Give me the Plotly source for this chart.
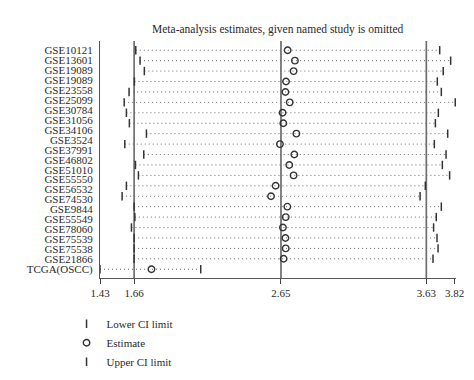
import plotly.graph_objects as go

# ---- data ----
study_labels = ["GSE10121", "GSE13601", "GSE19089", "GSE19089", "GSE23558", "GSE25099",
                "GSE30784", "GSE31056", "GSE34106", "GSE3524", "GSE37991", "GSE46802",
                "GSE51010", "GSE55550", "GSE56532", "GSE74530", "GSE9844", "GSE55549",
                "GSE78060", "GSE75539", "GSE75538", "GSE21866", "TCGA(OSCC)"]

lower = [1.671, 1.700, 1.729, 1.662, 1.626, 1.593, 1.608, 1.628, 1.743, 1.597, 1.725,
         1.669, 1.689, 1.608, 1.579, 1.660, 1.665, 1.642, 1.660, 1.660, 1.660, 1.430]
estimate = [2.695, 2.744, 2.735, 2.684, 2.680, 2.709, 2.661, 2.666, 2.754, 2.643, 2.740,
            2.706, 2.735, 2.614, 2.583, 2.693, 2.682, 2.663, 2.680, 2.682, 2.668, 1.777]
upper = [3.720, 3.794, 3.744, 3.704, 3.731, 3.825, 3.711, 3.691, 3.774, 3.684, 3.763,
         3.738, 3.787, 3.623, 3.588, 3.731, 3.697, 3.679, 3.702, 3.709, 3.675, 2.109]

ref_lines = [1.66, 2.65, 3.63]
x_ticks = [1.43, 1.66, 2.65, 3.63, 3.82]
x_tick_text = ["1.43", "1.66", "2.65", "3.63", "3.82"]
title_text = "Meta-analysis estimates, given named study is omitted"

# ---- geometry helpers ----
n_rows = len(estimate)
row_pos = list(range(n_rows))
label_pos = [i * (n_rows - 1) / (len(study_labels) - 1) for i in range(len(study_labels))]

FONT = "Liberation Serif, Times New Roman, serif"
INK = "#2a2a2a"

fig = go.Figure()

# dotted CI lines
dx, dy = [], []
for r, lo, hi in zip(row_pos, lower, upper):
    dx += [lo, hi, None]
    dy += [r, r, None]
fig.add_trace(go.Scatter(x=dx, y=dy, mode="lines", showlegend=False, hoverinfo="skip",
                         line=dict(color="#6a6a6a", width=1, dash="1px,3px")))

fig.add_trace(go.Scatter(x=lower, y=row_pos, mode="markers", name="Lower CI limit",
                         marker=dict(symbol="line-ns", size=6,
                                     line=dict(color="#333333", width=1.5))))
fig.add_trace(go.Scatter(x=estimate, y=row_pos, mode="markers", name="Estimate",
                         marker=dict(symbol="circle-open", size=6.5, color="#333333",
                                     line=dict(color="#333333", width=1.4))))
fig.add_trace(go.Scatter(x=upper, y=row_pos, mode="markers", name="Upper CI limit",
                         marker=dict(symbol="line-ns", size=6,
                                     line=dict(color="#333333", width=1.5))))

for v in ref_lines:
    fig.add_shape(type="line", xref="x", yref="y domain", x0=v, x1=v, y0=0, y1=1,
                  line=dict(color="#6e6e6e", width=1.7), layer="below")

fig.update_layout(
    width=474, height=380,
    margin=dict(l=92, r=26, t=33, b=103),
    paper_bgcolor="white", plot_bgcolor="white",
    font=dict(family=FONT, size=11, color=INK),
    showlegend=True,
    legend=dict(x=-0.094, y=-0.132, xanchor="left", yanchor="top",
                font=dict(family=FONT, size=11, color=INK),
                bgcolor="rgba(0,0,0,0)", itemwidth=30, tracegroupgap=0),
    annotations=[dict(text=title_text, xref="paper", yref="paper", x=0.5, y=1 + 12 / 244,
                      xanchor="center", yanchor="middle", showarrow=False,
                      font=dict(family=FONT, size=11.5, color=INK))],
)

fig.update_xaxes(range=[1.43, 3.83], tickvals=x_ticks, ticktext=x_tick_text,
                 ticks="outside", ticklen=5, tickwidth=1, tickcolor="#444444",
                 showline=True, linecolor="#555555", linewidth=1.2,
                 showgrid=False, zeroline=False,
                 tickfont=dict(family=FONT, size=11, color=INK))
fig.update_yaxes(range=[21.84, -0.885], tickvals=label_pos, ticktext=study_labels,
                 ticks="", showline=True, linecolor="#555555", linewidth=1.2,
                 showgrid=False, zeroline=False, ticklabelstandoff=4,
                 tickfont=dict(family=FONT, size=11, color=INK))

fig.write_html("out.html")
